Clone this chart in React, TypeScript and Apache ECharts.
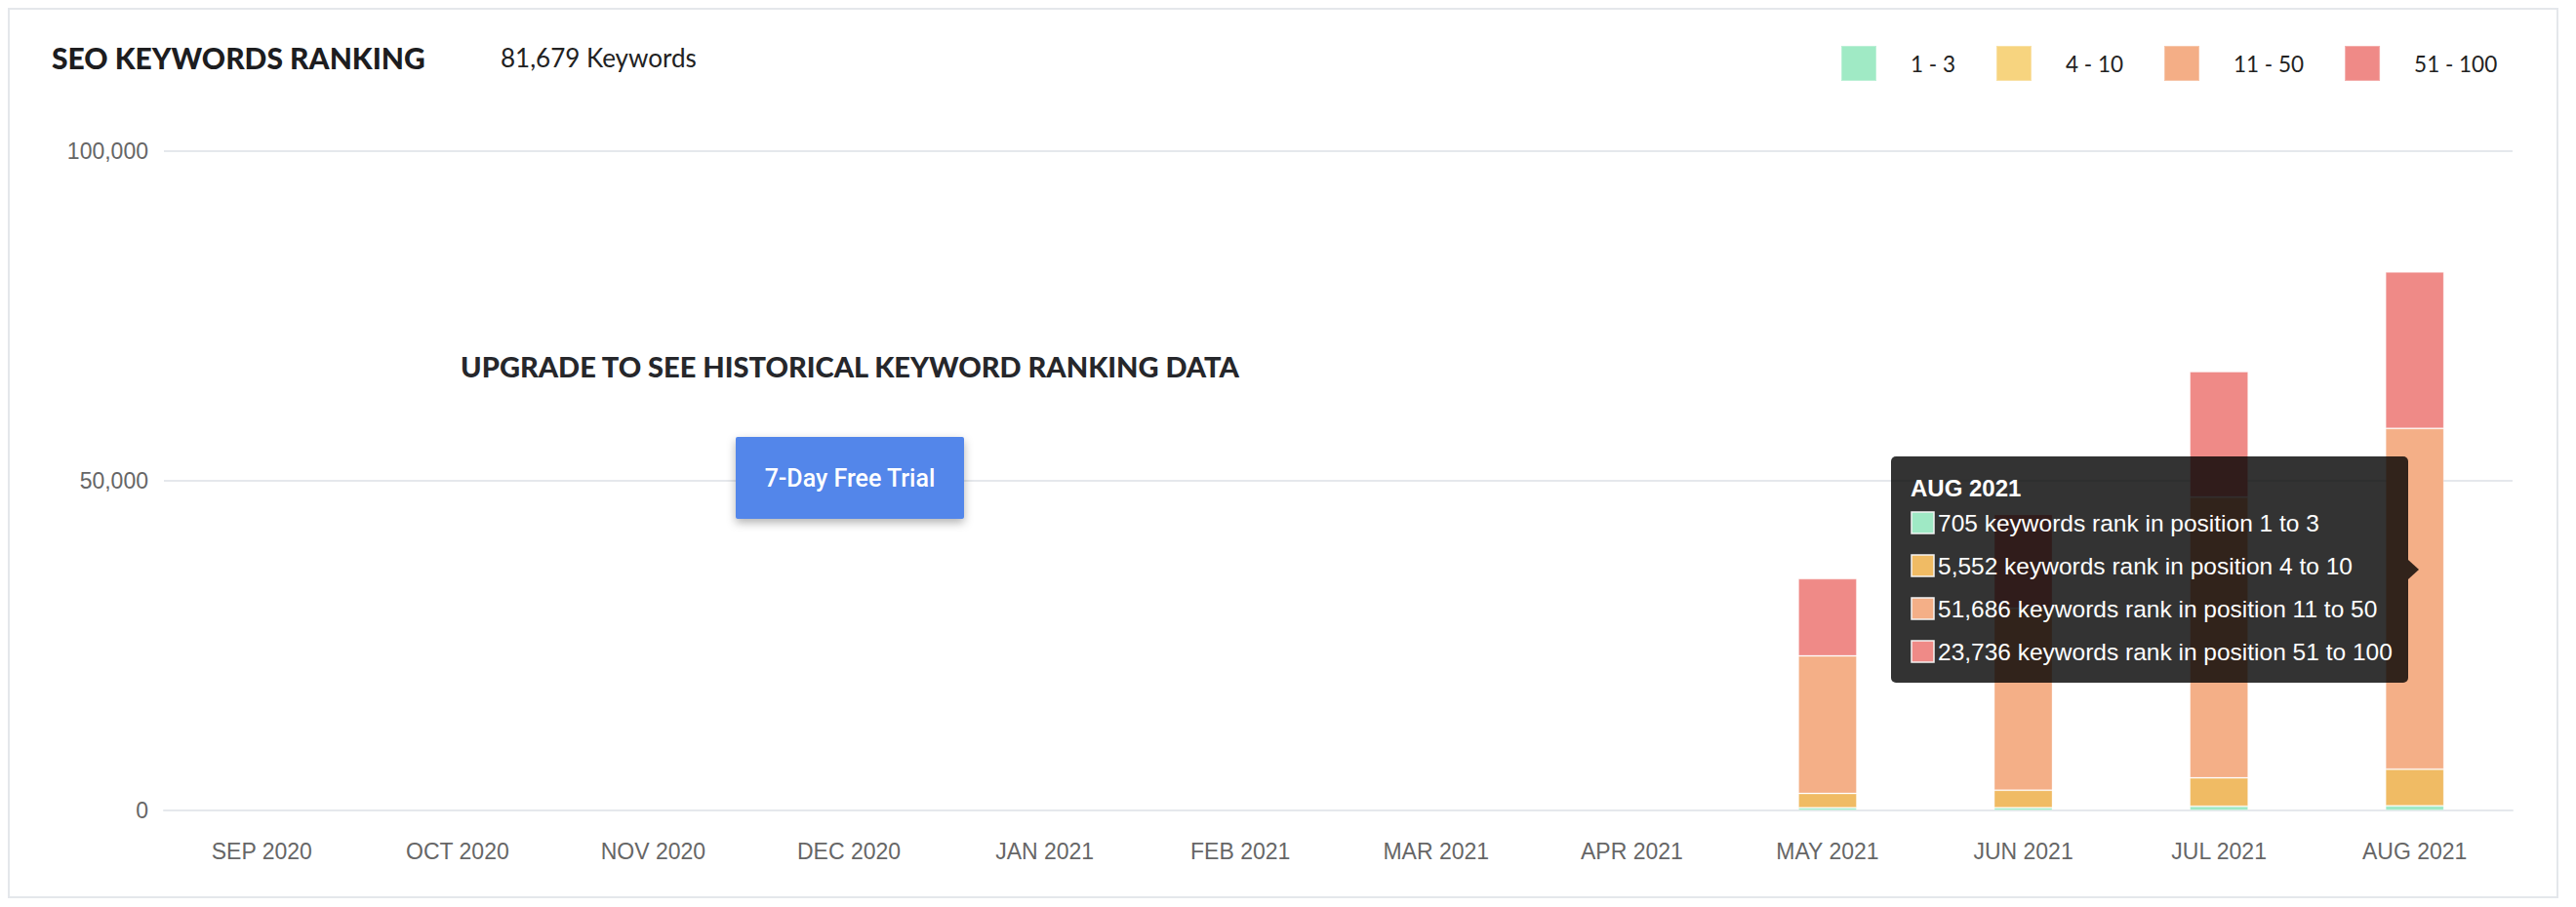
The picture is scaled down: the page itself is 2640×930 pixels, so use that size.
import React, { useEffect, useRef } from "react";
import * as echarts from "echarts";

const months = [
  "SEP 2020", "OCT 2020", "NOV 2020", "DEC 2020", "JAN 2021", "FEB 2021",
  "MAR 2021", "APR 2021", "MAY 2021", "JUN 2021", "JUL 2021", "AUG 2021",
];
const rank1to3 = [null, null, null, null, null, null, null, null, 400, 420, 640, 705];
const rank4to10 = [null, null, null, null, null, null, null, null, 2180, 2650, 4300, 5552];
const rank11to50 = [null, null, null, null, null, null, null, null, 20860, 27600, 42600, 51686];
const rank51to100 = [null, null, null, null, null, null, null, null, 11720, 14220, 19030, 23736];

const rangeNames = ["1 - 3", "4 - 10", "11 - 50", "51 - 100"];
const rangeLow = [1, 4, 11, 51];
const rangeHigh = [3, 10, 50, 100];
const barColors = ["#9fe9c5", "#f0bb64", "#f4af87", "#ef8a87"];
const legendColors = ["#a0eac5", "#f7d47f", "#f4ae86", "#ef8a87"];
const yMax = 100000;
const yInterval = 50000;
const tooltipIndex = 11;

const seriesValues = [rank1to3, rank4to10, rank11to50, rank51to100];

const fmt = (v: number) => v.toLocaleString("en-US");

export default function App() {
  const ref = useRef<HTMLDivElement>(null);
  useEffect(() => {
    if (!ref.current) return;
    const chart = echarts.init(ref.current, undefined, { renderer: "svg" });
    const total = seriesValues.reduce((s, arr) => s + (arr[arr.length - 1] || 0), 0);

    const heavy = "Lato, 'DejaVu Sans', sans-serif";
    const sans = "'Liberation Sans', Arial, sans-serif";

    const tipX = 1938, tipY = 468, tipW = 530, tipH = 232;
    const tipRowY = [536, 580, 624, 668];
    const tipElements: any[] = [
      {
        type: "rect", z: 100,
        shape: { x: tipX, y: tipY, width: tipW, height: tipH, r: 5 },
        style: { fill: "rgba(0,0,0,0.8)" },
      },
      {
        type: "polygon", z: 100,
        shape: { points: [[tipX + tipW, 574], [tipX + tipW + 11, 584], [tipX + tipW, 594]] },
        style: { fill: "rgba(0,0,0,0.8)" },
      },
      {
        type: "text", z: 101,
        style: {
          text: months[tooltipIndex], x: 1958, y: 500,
          font: `bold 24px ${sans}`, fill: "#fff",
          align: "left", verticalAlign: "middle", textAlign: "left", textVerticalAlign: "middle",
        },
      },
    ];
    seriesValues.forEach((arr, i) => {
      tipElements.push({
        type: "rect", z: 101,
        shape: { x: 1959, y: tipRowY[i] - 11, width: 23, height: 22 },
        style: { fill: barColors[i], stroke: "#f3f3f3", lineWidth: 1.5 },
      });
      tipElements.push({
        type: "text", z: 101,
        style: {
          text: `${fmt(arr[tooltipIndex] as number)} keywords rank in position ${rangeLow[i]} to ${rangeHigh[i]}`,
          x: 1986, y: tipRowY[i],
          font: `24.5px ${sans}`, fill: "#fff",
          align: "left", verticalAlign: "middle", textAlign: "left", textVerticalAlign: "middle",
        },
      });
    });

    chart.setOption({
      animation: false,
      textStyle: { fontFamily: sans },
      grid: { left: 168, right: 65, top: 155, bottom: 99, containLabel: false },
      legend: {
        left: 1886,
        top: 46,
        padding: 0,
        itemWidth: 36,
        itemHeight: 36,
        itemGap: 41,
        icon: "rect",
        selectedMode: false,
        textStyle: { fontFamily: heavy, fontSize: 22.5, color: "#222", padding: [0, 0, 0, 30] },
        data: rangeNames.map((n, i) => ({ name: n, itemStyle: { color: legendColors[i] } })),
      },
      xAxis: {
        type: "category",
        data: months,
        axisLine: { lineStyle: { color: "#e5e8ec", width: 2 } },
        axisTick: { show: false },
        axisLabel: { color: "#666", fontSize: 23, margin: 30, fontFamily: sans },
      },
      yAxis: {
        type: "value",
        min: 0,
        max: yMax,
        interval: yInterval,
        axisLine: { show: false },
        axisTick: { show: false },
        splitLine: { lineStyle: { color: "#e5e8ec", width: 2 } },
        axisLabel: {
          color: "#666", fontSize: 23, margin: 16, fontFamily: sans,
          formatter: (v: number) => fmt(v),
        },
      },
      series: seriesValues.map((arr, i) => ({
        name: rangeNames[i],
        type: "bar",
        stack: "total",
        barWidth: 60,
        data: arr,
        itemStyle: { color: barColors[i], borderColor: "rgba(255,255,255,0.3)", borderWidth: 1 },
      })),
      graphic: [
        {
          type: "rect",
          shape: { x: 9, y: 9, width: 2612, height: 911 },
          style: { fill: "none", stroke: "#e4e7eb", lineWidth: 2 },
          silent: true,
        },
        {
          type: "text",
          style: {
            text: "SEO KEYWORDS RANKING", x: 53, y: 59,
            font: `900 30px ${heavy}`, fill: "#1d1d1f",
            align: "left", verticalAlign: "middle", textAlign: "left", textVerticalAlign: "middle",
          },
        },
        {
          type: "text",
          style: {
            text: `${fmt(total)} Keywords`, x: 513, y: 59,
            font: `400 26px ${heavy}`, fill: "#222",
            align: "left", verticalAlign: "middle", textAlign: "left", textVerticalAlign: "middle",
          },
        },
        {
          type: "text", z: 50,
          style: {
            text: "UPGRADE TO SEE HISTORICAL KEYWORD RANKING DATA", x: 871, y: 375,
            font: `900 29px ${heavy}`, fill: "#26272b",
            align: "center", verticalAlign: "middle", textAlign: "center", textVerticalAlign: "middle",
          },
        },
        {
          type: "rect", z: 50,
          shape: { x: 754, y: 448, width: 234, height: 84, r: 2 },
          style: {
            fill: "#5286ea", shadowBlur: 10, shadowColor: "rgba(0,0,0,0.3)", shadowOffsetY: 4,
          },
        },
        {
          type: "text", z: 51,
          style: {
            text: "7-Day Free Trial", x: 871, y: 490,
            font: `500 25px Roboto, sans-serif`, fill: "#fff",
            align: "center", verticalAlign: "middle", textAlign: "center", textVerticalAlign: "middle",
          },
        },
        ...tipElements,
      ],
    });
    return () => chart.dispose();
  }, []);
  return (
    <div
      ref={ref}
      style={{ position: "absolute", left: 0, top: 0, width: 2640, height: 930, background: "#fff" }}
    />
  );
}
